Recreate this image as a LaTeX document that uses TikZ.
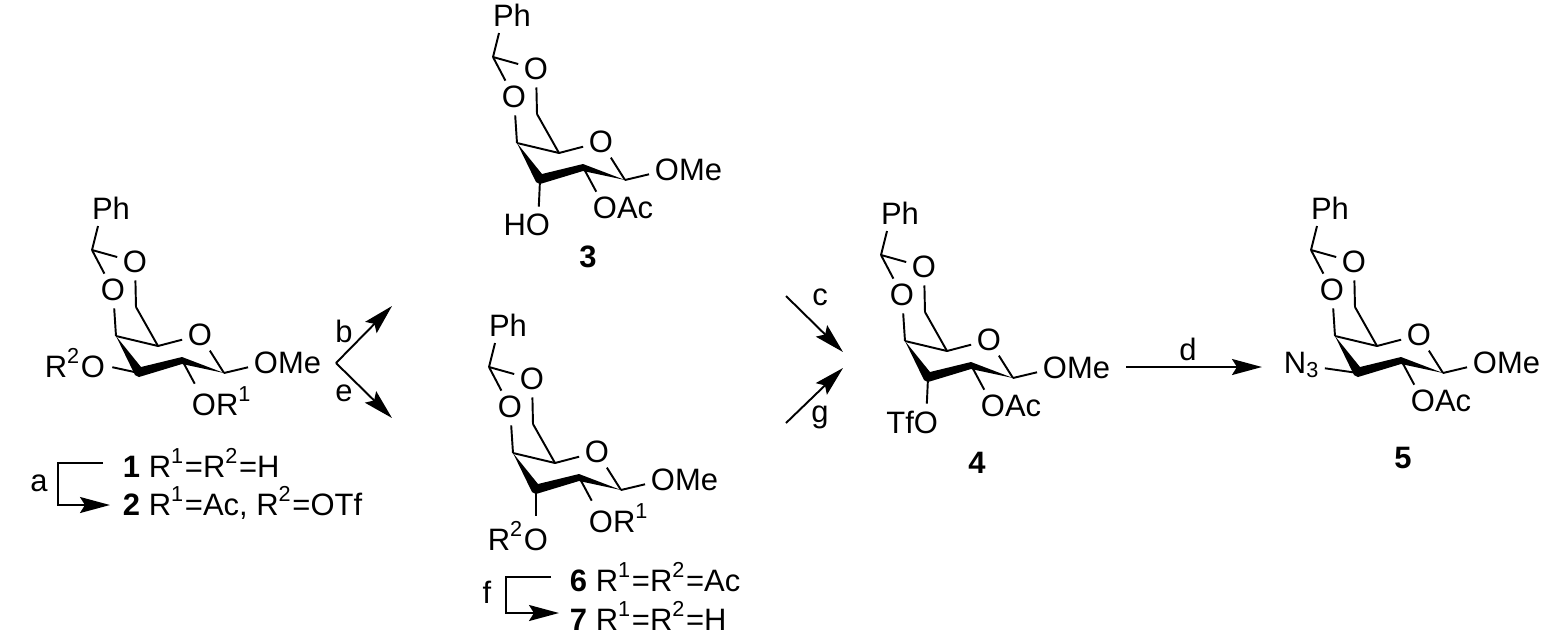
\documentclass[tikz,border=0pt]{standalone}
\usepackage{fontspec}
\setmainfont{Liberation Sans}
\usetikzlibrary{arrows.meta}
\tikzset{ every node/.style = {font=\fontsize{8.8}{10}\selectfont} }
\tikzset{ atom/.style = {circle, minimum size=0.35cm, inner sep=0pt} }
\tikzset{ chem/.style = {rectangle, inner sep=0pt, align=left} }
\tikzset{ rxn/.style = {-{Stealth[length=0.3cm, width=0.16cm, inset=0.05cm]}} }
\tikzset{ pics/sugar/.style = {code={
    \coordinate (-C1) at (85, 0);
    \coordinate (-C2) at (43, -13);
    \coordinate (-C3) at (0, 0);
    \coordinate (-C4) at (-23, -37);
    \coordinate (-C5) at (19, -27);
    \coordinate (-C6) at (-3, -66);
    \coordinate (-CH) at (-47, -123);
    \node[atom] (-O5) at (61, -38) {O};
    \node[atom] (-O6) at (-4, -111) {O};
    \node[atom] (-O4) at (-26, -83) {O};
    \node[chem] (-Ph) at (-28, -165) {Ph};
    \node[atom] (-OMe) at (127, -10) {O\rlap{Me}};
    \node[atom] (-OR) at (65, 28) {O\rlap{#1}};
    \fill[line join=round] (-C4) -- (-4, 2) -- (0, 4) -- (43, -9) -- (-C1)
        -- (43, -16) -- (2, -6) -- cycle;
    \draw (-C4) to (-C5);
    \draw (-C5) to (-O5);
    \draw (-O5) to (-C1);
    \draw (-C5) to (-C6);
    \draw (-C6) to (-O6);
    \draw (-O6) to (-CH);
    \draw (-CH) to (-O4);
    \draw (-O4) to (-C4);
    \draw (-CH) to ([shift={(-13,18)}]-Ph.center);
    \draw (-C1) to (-OMe);
    \draw (-C2) to (-OR);
}} }

\begin{document}
\begin{tikzpicture}[x=0.01cm, y=-0.01cm, line width=0.55pt]
    \useasboundingbox (0, 0) rectangle (1556, 638);
    % the five sugars
    \pic (s1) at (139, 373) {sugar={R\textsuperscript{1}}};
    \pic (s3) at (540, 180) {sugar={Ac}};
    \pic (s6) at (536, 490) {sugar={R\textsuperscript{1}}};
    \pic (s4) at (928, 378) {sugar={Ac}};
    \pic (s5) at (1358, 373) {sugar={Ac}};
    % groups on C3
    \node[atom] (s1-R) at (93, 363) {\llap{R\textsuperscript{2}}O};
    \node[atom] (s3-H) at (538, 225) {\llap{H}O};
    \node[atom] (s6-R) at (536, 536) {\llap{R\textsuperscript{2}}O};
    \node[atom] (s4-Tf) at (926, 422) {\llap{Tf}O};
    \node[atom] (s5-N) at (1302, 365) {N\textsubscript{3}};
    \draw (s1-C3) to (s1-R);
    \draw (s3-C3) to (s3-H);
    \draw (s6-C3) to (s6-R);
    \draw (s4-C3) to (s4-Tf);
    \draw (s5-C3) to (s5-N);
    % numbers and captions
    \node[chem] (n3) at (588, 257) {\textbf{3}};
    \node[chem] (n4) at (977, 463) {\textbf{4}};
    \node[chem] (n5) at (1403, 458) {\textbf{5}};
    \node[chem, anchor=west] (n1) at (122, 463) {\textbf{1} R\textsuperscript{1}=R\textsuperscript{2}=H};
    \node[chem, anchor=west] (n2) at (122, 503) {\textbf{2} R\textsuperscript{1}=Ac, R\textsuperscript{2}=OTf};
    \node[chem, anchor=west] (n6) at (569, 577) {\textbf{6} R\textsuperscript{1}=R\textsuperscript{2}=Ac};
    \node[chem, anchor=west] (n7) at (569, 616) {\textbf{7} R\textsuperscript{1}=R\textsuperscript{2}=H};
    % reaction arrows
    \coordinate (be) at (336, 363);
    \coordinate (bt) at (392, 306);
    \coordinate (et) at (392, 418);
    \coordinate (cs) at (786, 296);
    \coordinate (ct) at (843, 352);
    \coordinate (gs) at (786, 423);
    \coordinate (gt) at (843, 368);
    \coordinate (ds) at (1126, 367);
    \coordinate (dt) at (1262, 367);
    \coordinate (as) at (103, 463);
    \coordinate (at) at (110, 505);
    \coordinate (fs) at (551, 577);
    \coordinate (ft) at (559, 613);
    \draw[rxn] (be) to (bt);
    \draw[rxn] (be) to (et);
    \draw[rxn] (cs) to (ct);
    \draw[rxn] (gs) to (gt);
    \draw[rxn] (ds) to (dt);
    \draw[rxn] (as) -- (58, 463) -- (58, 505) -- (at);
    \draw[rxn] (fs) -- (506, 577) -- (506, 613) -- (ft);
    \node[chem] (la) at (39, 483) {a};
    \node[chem] (lb) at (344, 331) {b};
    \node[chem] (le) at (344, 393) {e};
    \node[chem] (lc) at (820, 297) {c};
    \node[chem] (lg) at (820, 417) {g};
    \node[chem] (ld) at (1188, 349) {d};
    \node[chem] (lf) at (487, 592) {f};
\end{tikzpicture}
\end{document}
